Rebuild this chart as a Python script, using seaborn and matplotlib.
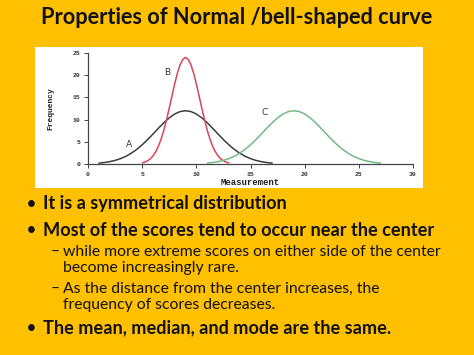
import matplotlib
matplotlib.use("Agg")
import matplotlib.pyplot as plt
import seaborn as sns
import pandas as pd
from matplotlib.patches import Rectangle

# ---- data ----
a_x = [1, 1.5, 2, 2.5, 3, 3.5, 4, 4.5, 5, 5.5, 6, 6.5, 7, 7.5, 8, 8.5, 9,
       9.5, 10, 10.5, 11, 11.5, 12, 12.5, 13, 13.5, 14, 14.5, 15, 15.5, 16, 16.5, 17]
a_y = [0.20, 0.33, 0.53, 0.81, 1.21, 1.74, 2.44, 3.30, 4.33, 5.49, 6.76, 8.06, 9.30, 10.40, 11.26, 11.81, 12.0,
       11.81, 11.26, 10.40, 9.30, 8.06, 6.76, 5.49, 4.33, 3.30, 2.44, 1.74, 1.21, 0.81, 0.53, 0.33, 0.20]

b_x = [5, 5.25, 5.5, 5.75, 6, 6.25, 6.5, 6.75, 7, 7.25, 7.5, 7.75, 8, 8.25, 8.5, 8.75, 9,
       9.25, 9.5, 9.75, 10, 10.25, 10.5, 10.75, 11, 11.25, 11.5, 11.75, 12, 12.25, 12.5, 12.75, 13]
b_y = [0.25, 0.43, 0.72, 1.17, 1.83, 2.77, 4.03, 5.65, 7.65, 10.01, 12.62, 15.36, 18.04, 20.44, 22.35, 23.58, 24.0,
       23.58, 22.35, 20.44, 18.04, 15.36, 12.62, 10.01, 7.65, 5.65, 4.03, 2.77, 1.83, 1.17, 0.72, 0.43, 0.25]

c_x = [11, 11.5, 12, 12.5, 13, 13.5, 14, 14.5, 15, 15.5, 16, 16.5, 17, 17.5, 18, 18.5, 19,
       19.5, 20, 20.5, 21, 21.5, 22, 22.5, 23, 23.5, 24, 24.5, 25, 25.5, 26, 26.5, 27]
c_y = [0.20, 0.33, 0.53, 0.81, 1.21, 1.74, 2.44, 3.30, 4.33, 5.49, 6.76, 8.06, 9.30, 10.40, 11.26, 11.81, 12.0,
       11.81, 11.26, 10.40, 9.30, 8.06, 6.76, 5.49, 4.33, 3.30, 2.44, 1.74, 1.21, 0.81, 0.53, 0.33, 0.20]

curve_names = ["A", "B", "C"]
label_pos_x = [3.8, 7.3, 16.3]
label_pos_y = [4.5, 20.6, 11.5]
x_ticks = [0, 5, 10, 15, 20, 25, 30]
y_ticks = [0, 5, 10, 15, 20, 25]

title = "Properties of Normal /bell-shaped curve"
bullets = [
    ("main", ["It is a symmetrical distribution"]),
    ("main", ["Most of the scores tend to occur near the center"]),
    ("sub", ["while more extreme scores on either side of the center", "become increasingly rare."]),
    ("sub", ["As the distance from the center increases, the", "frequency of scores decreases."]),
    ("main", ["The mean, median, and mode are the same."]),
]

df = pd.concat([
    pd.DataFrame({"x": a_x, "y": a_y, "curve": "A"}),
    pd.DataFrame({"x": b_x, "y": b_y, "curve": "B"}),
    pd.DataFrame({"x": c_x, "y": c_y, "curve": "C"}),
])

sns.set_style("white")
BG = "#FFC000"
fig = plt.figure(figsize=(4.74, 3.55), dpi=100, facecolor=BG)

# white chart panel
fig.patches.append(Rectangle((0.0738, 0.4704), 0.8186, 0.3972, transform=fig.transFigure,
                             facecolor="white", edgecolor="none", zorder=-5))

ax = fig.add_axes([0.1857, 0.538, 0.6857, 0.3127])
ax.set_zorder(2)
ax.set_facecolor("none")
palette = {"A": "#3d3d3d", "B": "#d8465a", "C": "#72ba86"}
sns.lineplot(data=df, x="x", y="y", hue="curve", palette=palette, ax=ax,
             linewidth=1.1, legend=False, sort=False, estimator=None)

for n, lx, ly in zip(curve_names, label_pos_x, label_pos_y):
    ax.text(lx, ly, n, fontsize=6.5, color="#333333", family="DejaVu Sans", ha="center", va="center")

ax.set_xlim(0, 30)
ax.set_ylim(0, 25)
ax.set_xticks(x_ticks)
ax.set_yticks(y_ticks)
ax.tick_params(axis="both", labelsize=4.6, length=3, width=0.7, color="#444444",
               labelcolor="#333333", pad=2.5, direction="out", left=True, bottom=True)
for lab in ax.get_xticklabels() + ax.get_yticklabels():
    lab.set_family("Liberation Mono")
    lab.set_fontweight("bold")
for s in ["top", "right"]:
    ax.spines[s].set_visible(False)
for s in ["left", "bottom"]:
    ax.spines[s].set_color("#444444")
    ax.spines[s].set_linewidth(0.9)
ax.set_xlabel("Measurement", fontsize=6.5, family="Liberation Mono", fontweight="bold",
              color="#222222", labelpad=1)
ax.set_ylabel("Frequency", fontsize=5.8, family="Liberation Mono", fontweight="bold",
              color="#222222", labelpad=13)

# title
fig.text(0.5, 1 - 18 / 355, title, ha="center", va="center", fontsize=15.7,
         fontweight="bold", family="Lato", color="#111111")

# bullets
y_positions = [204, 230, 252, 289, 328]
for (kind, lines), yp in zip(bullets, y_positions):
    yf = 1 - yp / 355
    if kind == "main":
        fig.text(27 / 474, yf, "•", ha="left", va="center", fontsize=11, family="Lato",
                 fontweight="bold", color="#111111")
        fig.text(43 / 474, yf, lines[0], ha="left", va="center", fontsize=13.1, family="Lato",
                 fontweight="bold", color="#111111")
    else:
        fig.text(51 / 474, yf, "–", ha="left", va="center", fontsize=11.3, family="Lato",
                 color="#111111")
        for i, ln in enumerate(lines):
            fig.text(63 / 474, yf - i * 16 / 355, ln, ha="left", va="center", fontsize=11.3,
                     family="Lato", color="#111111")

fig.savefig("out.png", dpi=100, facecolor=BG)
